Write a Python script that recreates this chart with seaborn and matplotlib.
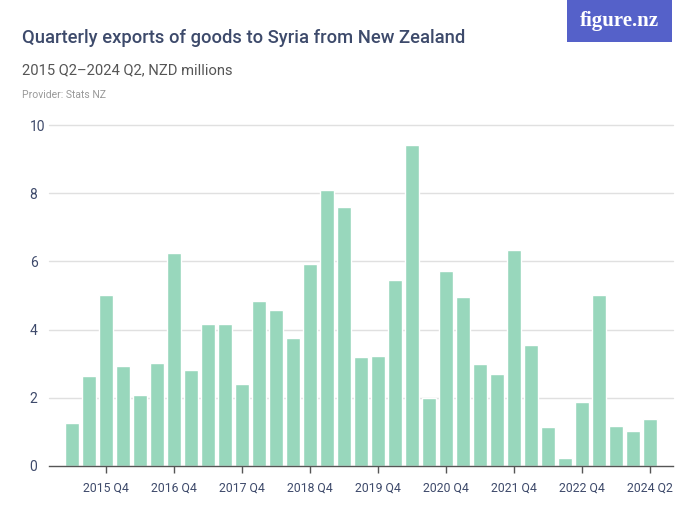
import matplotlib
matplotlib.use("Agg")
import matplotlib.pyplot as plt
import matplotlib.patches as patches
import seaborn as sns
import pandas as pd

quarters = [
    "2015 Q2", "2015 Q3", "2015 Q4",
    "2016 Q1", "2016 Q2", "2016 Q3", "2016 Q4",
    "2017 Q1", "2017 Q2", "2017 Q3", "2017 Q4",
    "2018 Q1", "2018 Q2", "2018 Q3", "2018 Q4",
    "2019 Q1", "2019 Q2", "2019 Q3", "2019 Q4",
    "2020 Q1", "2020 Q2", "2020 Q3", "2020 Q4",
    "2021 Q1", "2021 Q2", "2021 Q3", "2021 Q4",
    "2022 Q1", "2022 Q2", "2022 Q3", "2022 Q4",
    "2023 Q1", "2023 Q3", "2024 Q1", "2024 Q2",
]
exports = [
    1.25, 2.63, 5.01,
    2.94, 2.07, 3.01, 6.25,
    2.81, 4.17, 4.16, 2.41,
    4.84, 4.56, 3.75, 5.93,
    8.08, 7.59, 3.20, 3.22,
    5.44, 9.40, 2.00, 5.71,
    4.95, 2.98, 2.71, 6.34,
    3.54, 1.15, 0.22, 1.87,
    5.02, 1.16, 1.02, 1.37,
]
tick_labels = ["2015 Q4", "2016 Q4", "2017 Q4", "2018 Q4", "2019 Q4",
               "2020 Q4", "2021 Q4", "2022 Q4", "2024 Q2"]
y_ticks = [0, 2, 4, 6, 8, 10]

sns.set_theme(style="white")
plt.rcParams["font.family"] = ["Roboto", "DejaVu Sans"]

df = pd.DataFrame({"quarter": quarters, "value": exports})

fig = plt.figure(figsize=(7, 5.25), dpi=100)
ax = fig.add_axes([0.07, 0.1124, 0.891, 0.6495])

sns.barplot(data=df, x="quarter", y="value", color="#98d7bc", saturation=1,
            width=0.82, ax=ax, zorder=3)

ax.set_ylim(0, 10)
ax.set_xlim(-1.35, len(quarters) - 1 + 1.35)
ax.set_yticks(y_ticks)
ax.set_yticklabels([str(v) for v in y_ticks])
for t in y_ticks[1:]:
    ax.axhline(t, color="#e0e0e0", lw=1, zorder=1, clip_on=False)

pos = [quarters.index(q) for q in tick_labels]
ax.set_xticks(pos)
ax.set_xticklabels(tick_labels)
ax.set_xlabel("")
ax.set_ylabel("")

for s in ["top", "right", "left"]:
    ax.spines[s].set_visible(False)
ax.spines["bottom"].set_color("#555555")
ax.spines["bottom"].set_linewidth(1)
ax.spines["bottom"].set_zorder(4)

ax.tick_params(axis="x", length=5, width=1, color="#555555", pad=6,
               labelsize=8.8, labelcolor="#3e4a6b", bottom=True)
ax.tick_params(axis="y", length=0, pad=0, labelsize=10, labelcolor="#3e4a6b")
for lab in ax.get_yticklabels():
    lab.set_horizontalalignment("left")
    lab.set_x(-0.031)

fig.text(0.031, 0.928, "Quarterly exports of goods to Syria from New Zealand",
         fontsize=13.2, fontweight="medium", color="#3d4a6b", va="center")
fig.text(0.031, 0.867, "2015 Q2\u20132024 Q2, NZD millions",
         fontsize=10.6, color="#555555", va="center")
fig.text(0.031, 0.819, "Provider: Stats NZ",
         fontsize=7.5, color="#999999", va="center")

logo = patches.Rectangle((567 / 700, 1 - 42 / 525), 105 / 700, 42 / 525,
                         transform=fig.transFigure, facecolor="#5561c9",
                         edgecolor="none")
fig.patches.append(logo)
fig.text(619 / 700, 1 - 21 / 525, "figure.nz", fontsize=15, color="white",
         family="Liberation Serif", fontweight="bold", ha="center", va="center")

plt.savefig("out.png", dpi=100)
plt.close()
